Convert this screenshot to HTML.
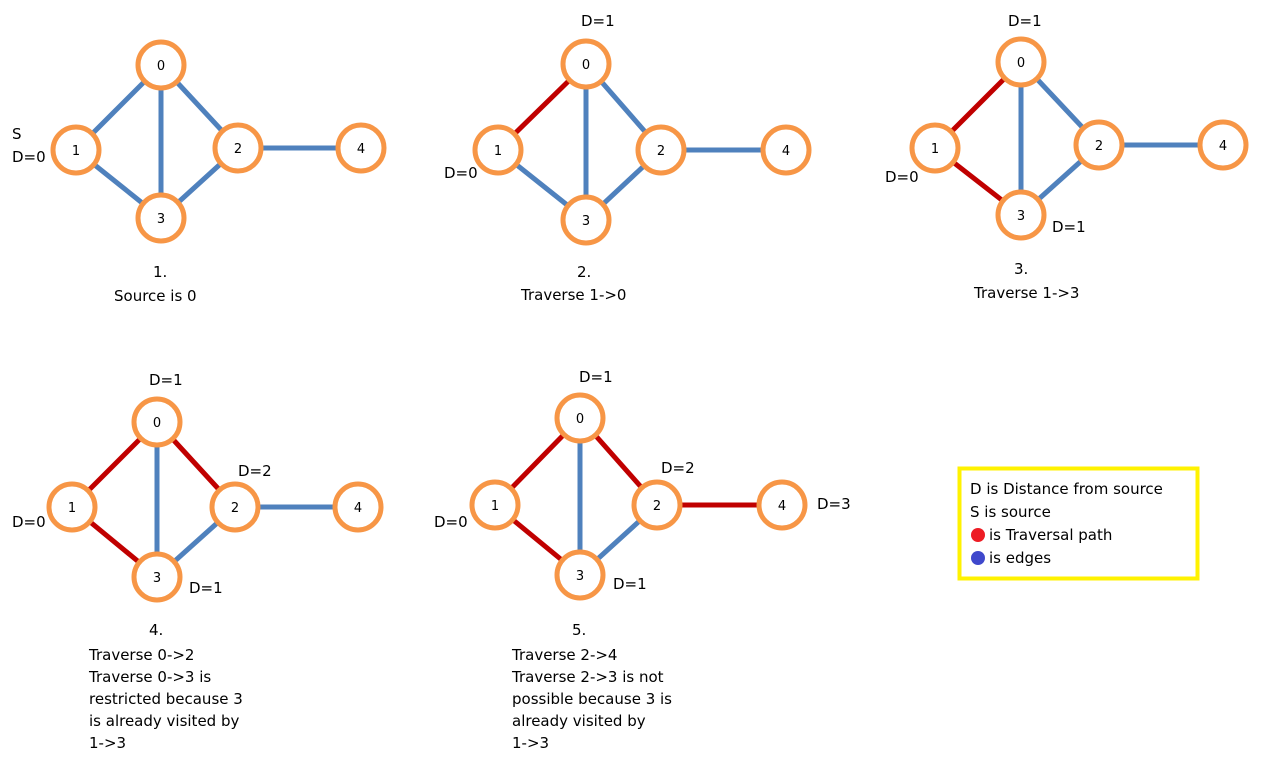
<!DOCTYPE html>
<html><head><meta charset="utf-8"><style>
body{margin:0;background:#fff}
svg text{font-family:"DejaVu Sans","Liberation Sans",sans-serif;fill:#000}
.n{fill:#fff;stroke:#F79646;stroke-width:5}
.b{stroke:#4F81BD;stroke-width:5}
.r{stroke:#C00000;stroke-width:5}
.t{font-size:15px;font-weight:500}
.l{font-size:13px;text-anchor:middle}
</style></head><body>
<svg width="1274" height="760" viewBox="0 0 1274 760" xmlns="http://www.w3.org/2000/svg">
<!-- Diagram 1 -->
<g>
<line class="b" x1="161" y1="65" x2="76" y2="150"/><line class="b" x1="161" y1="65" x2="161" y2="218"/><line class="b" x1="161" y1="65" x2="238" y2="148"/>
<line class="b" x1="76" y1="150" x2="161" y2="218"/><line class="b" x1="238" y1="148" x2="161" y2="218"/><line class="b" x1="238" y1="148" x2="361" y2="148"/>
<circle class="n" cx="161" cy="65" r="23"/><circle class="n" cx="76" cy="150" r="23"/><circle class="n" cx="238" cy="148" r="23"/><circle class="n" cx="161" cy="218" r="23"/><circle class="n" cx="361" cy="148" r="23"/>
<text class="l" x="161" y="70">0</text><text class="l" x="76" y="155">1</text><text class="l" x="238" y="153">2</text><text class="l" x="161" y="223">3</text><text class="l" x="361" y="153">4</text>
<text class="t" x="12" y="139">S</text><text class="t" x="12" y="162">D=0</text>
<text class="t" x="153" y="277">1.</text><text class="t" x="114" y="301">Source is 0</text>
</g>
<!-- Diagram 2 -->
<g>
<line class="r" x1="586" y1="64" x2="498" y2="150"/><line class="b" x1="586" y1="64" x2="586" y2="220"/><line class="b" x1="586" y1="64" x2="661" y2="150"/>
<line class="b" x1="498" y1="150" x2="586" y2="220"/><line class="b" x1="661" y1="150" x2="586" y2="220"/><line class="b" x1="661" y1="150" x2="786" y2="150"/>
<circle class="n" cx="586" cy="64" r="23"/><circle class="n" cx="498" cy="150" r="23"/><circle class="n" cx="661" cy="150" r="23"/><circle class="n" cx="586" cy="220" r="23"/><circle class="n" cx="786" cy="150" r="23"/>
<text class="l" x="586" y="69">0</text><text class="l" x="498" y="155">1</text><text class="l" x="661" y="155">2</text><text class="l" x="586" y="225">3</text><text class="l" x="786" y="155">4</text>
<text class="t" x="581" y="26">D=1</text><text class="t" x="444" y="178">D=0</text>
<text class="t" x="577" y="277">2.</text><text class="t" x="521" y="300">Traverse 1-&gt;0</text>
</g>
<!-- Diagram 3 -->
<g>
<line class="r" x1="1021" y1="62" x2="935" y2="148"/><line class="b" x1="1021" y1="62" x2="1021" y2="215"/><line class="b" x1="1021" y1="62" x2="1099" y2="145"/>
<line class="r" x1="935" y1="148" x2="1021" y2="215"/><line class="b" x1="1099" y1="145" x2="1021" y2="215"/><line class="b" x1="1099" y1="145" x2="1223" y2="145"/>
<circle class="n" cx="1021" cy="62" r="23"/><circle class="n" cx="935" cy="148" r="23"/><circle class="n" cx="1099" cy="145" r="23"/><circle class="n" cx="1021" cy="215" r="23"/><circle class="n" cx="1223" cy="145" r="23"/>
<text class="l" x="1021" y="67">0</text><text class="l" x="935" y="153">1</text><text class="l" x="1099" y="150">2</text><text class="l" x="1021" y="220">3</text><text class="l" x="1223" y="150">4</text>
<text class="t" x="1008" y="26">D=1</text><text class="t" x="885" y="182">D=0</text><text class="t" x="1052" y="232">D=1</text>
<text class="t" x="1014" y="274">3.</text><text class="t" x="974" y="298">Traverse 1-&gt;3</text>
</g>
<!-- Diagram 4 -->
<g>
<line class="r" x1="157" y1="422" x2="72" y2="507"/><line class="b" x1="157" y1="422" x2="157" y2="577"/><line class="r" x1="157" y1="422" x2="235" y2="507"/>
<line class="r" x1="72" y1="507" x2="157" y2="577"/><line class="b" x1="235" y1="507" x2="157" y2="577"/><line class="b" x1="235" y1="507" x2="358" y2="507"/>
<circle class="n" cx="157" cy="422" r="23"/><circle class="n" cx="72" cy="507" r="23"/><circle class="n" cx="235" cy="507" r="23"/><circle class="n" cx="157" cy="577" r="23"/><circle class="n" cx="358" cy="507" r="23"/>
<text class="l" x="157" y="427">0</text><text class="l" x="72" y="512">1</text><text class="l" x="235" y="512">2</text><text class="l" x="157" y="582">3</text><text class="l" x="358" y="512">4</text>
<text class="t" x="149" y="385">D=1</text><text class="t" x="238" y="476">D=2</text><text class="t" x="12" y="527">D=0</text><text class="t" x="189" y="593">D=1</text>
<text class="t" x="149" y="635">4.</text>
<text class="t" x="89" y="660">Traverse 0-&gt;2</text><text class="t" x="89" y="682">Traverse 0-&gt;3 is</text><text class="t" x="89" y="704">restricted because 3</text><text class="t" x="89" y="726">is already visited by</text><text class="t" x="89" y="748">1-&gt;3</text>
</g>
<!-- Diagram 5 -->
<g>
<line class="r" x1="580" y1="418" x2="495" y2="505"/><line class="b" x1="580" y1="418" x2="580" y2="575"/><line class="r" x1="580" y1="418" x2="657" y2="505"/>
<line class="r" x1="495" y1="505" x2="580" y2="575"/><line class="b" x1="657" y1="505" x2="580" y2="575"/><line class="r" x1="657" y1="505" x2="782" y2="505"/>
<circle class="n" cx="580" cy="418" r="23"/><circle class="n" cx="495" cy="505" r="23"/><circle class="n" cx="657" cy="505" r="23"/><circle class="n" cx="580" cy="575" r="23"/><circle class="n" cx="782" cy="505" r="23"/>
<text class="l" x="580" y="423">0</text><text class="l" x="495" y="510">1</text><text class="l" x="657" y="510">2</text><text class="l" x="580" y="580">3</text><text class="l" x="782" y="510">4</text>
<text class="t" x="579" y="382">D=1</text><text class="t" x="661" y="473">D=2</text><text class="t" x="434" y="527">D=0</text><text class="t" x="613" y="589">D=1</text><text class="t" x="817" y="509">D=3</text>
<text class="t" x="572" y="635">5.</text>
<text class="t" x="512" y="660">Traverse 2-&gt;4</text><text class="t" x="512" y="682">Traverse 2-&gt;3 is not</text><text class="t" x="512" y="704">possible because 3 is</text><text class="t" x="512" y="726">already visited by</text><text class="t" x="512" y="748">1-&gt;3</text>
</g>
<!-- Legend -->
<rect x="959.5" y="468.5" width="238" height="110" fill="#fff" stroke="#FFF200" stroke-width="4"/>
<text class="t" x="970" y="494">D is Distance from source</text>
<text class="t" x="970" y="517">S is source</text>
<circle cx="978" cy="535" r="7" fill="#ED1C24"/><text class="t" x="989" y="540">is Traversal path</text>
<circle cx="978" cy="558" r="7" fill="#3F48CC"/><text class="t" x="989" y="563">is edges</text>
</svg>
</body></html>
